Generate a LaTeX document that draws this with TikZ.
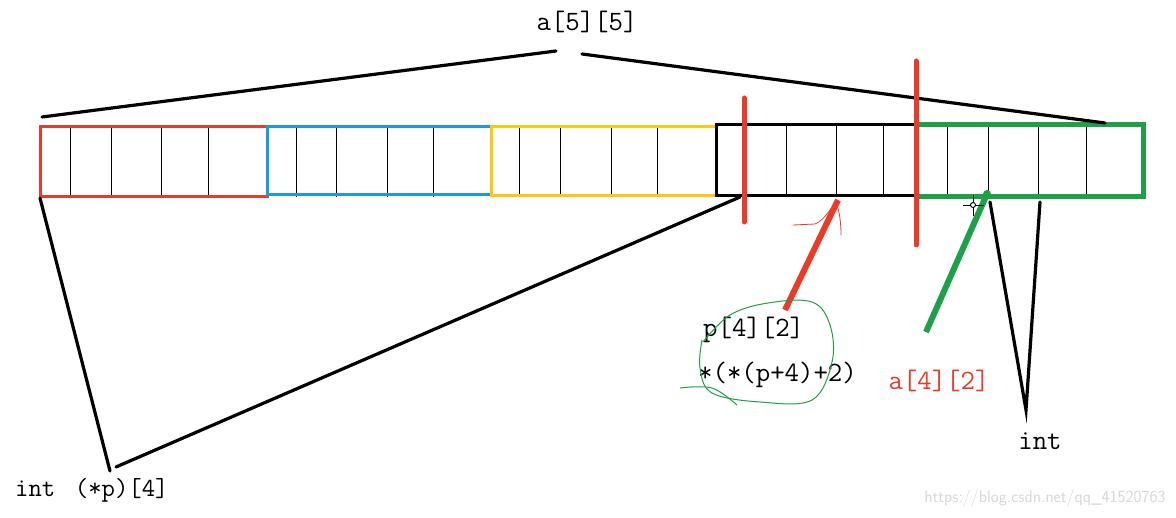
\documentclass[tikz,border=0pt]{standalone}
\usetikzlibrary{calc}
\definecolor{cred}{RGB}{235,58,40}
\definecolor{cblue}{RGB}{26,155,224}
\definecolor{cyellow}{RGB}{255,200,14}
\definecolor{cgreen}{RGB}{30,160,72}
\definecolor{wm}{RGB}{215,215,215}
\tikzset{
  boxline/.style={line width=3pt},
  cell/.style={line width=1pt, black},
  lead/.style={line width=3.2pt, black, line cap=round},
  cut/.style={line width=5pt, cred, line cap=round},
  lbl/.style={font=\ttfamily\fontsize{28}{31}\selectfont, inner sep=0pt},
}
\begin{document}
\begin{tikzpicture}[x=1pt,y=-1pt]
\useasboundingbox (0,0) rectangle (1176,518);
% labels
\node[lbl] (top) at (587,22) {a[5][5]};
\node[lbl, anchor=west, font=\ttfamily\fontsize{26}{30}\selectfont] (ptr) at (15,490) {int\hspace{0.75em}(*p)[4]};
\node[lbl, anchor=west] (p42) at (703,330) {p[4][2]};
\node[lbl, anchor=west] (deref) at (698,375) {*(*(p+4)+2)};
\node[lbl, text=cred] (a42) at (939,381) {a[4][2]};
\node[lbl] (int) at (1040,441) {int};
\node[font=\sffamily\fontsize{17}{20}\selectfont, text=wm, inner sep=0pt] (wmk) at (1045,498) {https://blog.csdn.net/qq\_41520763};
% internal cell lines
\foreach \x in {70,111,161,208,296,336,387,433,519,560,611,657,786,836,883}
  \draw[cell] (\x,126) -- (\x,197);
\foreach \x in {947,988,1038,1086}
  \draw[cell] (\x,126) -- (\x,198);
% boxes
\draw[boxline, cred] (40,127) rectangle (267,197);
\draw[boxline, cblue] (267,127) rectangle (491,195);
\draw[boxline, cyellow] (491,127) rectangle (716,196);
\draw[boxline, black] (716,125) rectangle (915,196);
\draw[line width=5pt, cgreen] (916,125) rectangle (1143,197);
% coordinates
\coordinate (tl) at (42,117);
\coordinate (tm1) at (556,51);
\coordinate (tm2) at (582,54);
\coordinate (tr) at (1105,123);
\coordinate (rb) at (40,198);
\coordinate (kb) at (740,197);
\coordinate (pv) at (110,471);
\coordinate (pv2) at (116,467);
\coordinate (c1t) at (744,98);
\coordinate (c1b) at (744,222);
\coordinate (c2t) at (916,61);
\coordinate (c2b) at (916,245);
\coordinate (ra1) at (785,310);
\coordinate (ra2) at (838,200);
\coordinate (ga1) at (926,332);
\coordinate (ga2) at (987,194);
\coordinate (i1) at (990,202);
\coordinate (i2) at (1040,202);
\coordinate (iv) at (1026,410);
% leader lines
\draw[lead] (tl) -- (tm1);
\draw[lead] (tm2) -- (tr);
\draw[lead] (rb) -- (pv);
\draw[lead] (pv2) -- (kb);
\draw[lead] (i1) -- (iv) -- (i2);
% cuts
\draw[cut] (c1t) -- (c1b);
\draw[cut] (c2t) -- (c2b);
% arrows (thick strokes)
\draw[line width=6pt, cred] (ra1) -- (ra2);
\draw[line width=6pt, cgreen] (ga1) -- (ga2);
\fill[cgreen] (ga2) circle (4);
% red scribble
\draw[cred, line width=0.8pt] (793,225) -- (815,224) .. controls (825,220) and (830,208) .. (836,203) .. controls (840,212) and (841,225) .. (841,235);
% green hand-drawn loop
\draw[cgreen, line width=1pt] plot[smooth, tension=0.6] coordinates {(680,388) (712,388) (737,405)};
\draw[cgreen, line width=1pt] plot[smooth, tension=0.6] coordinates {(703,342) (730,315) (768,303) (812,302) (830,325) (832,362) (812,400) (760,402) (712,393) (700,368) (702,340)};
% cursor crosshair
\draw[line width=0.9pt] (963,205) -- (984,205) (973,195) -- (973,216);
\draw[fill=white, line width=0.9pt] (973,205) circle (2.5);
\end{tikzpicture}
\end{document}
